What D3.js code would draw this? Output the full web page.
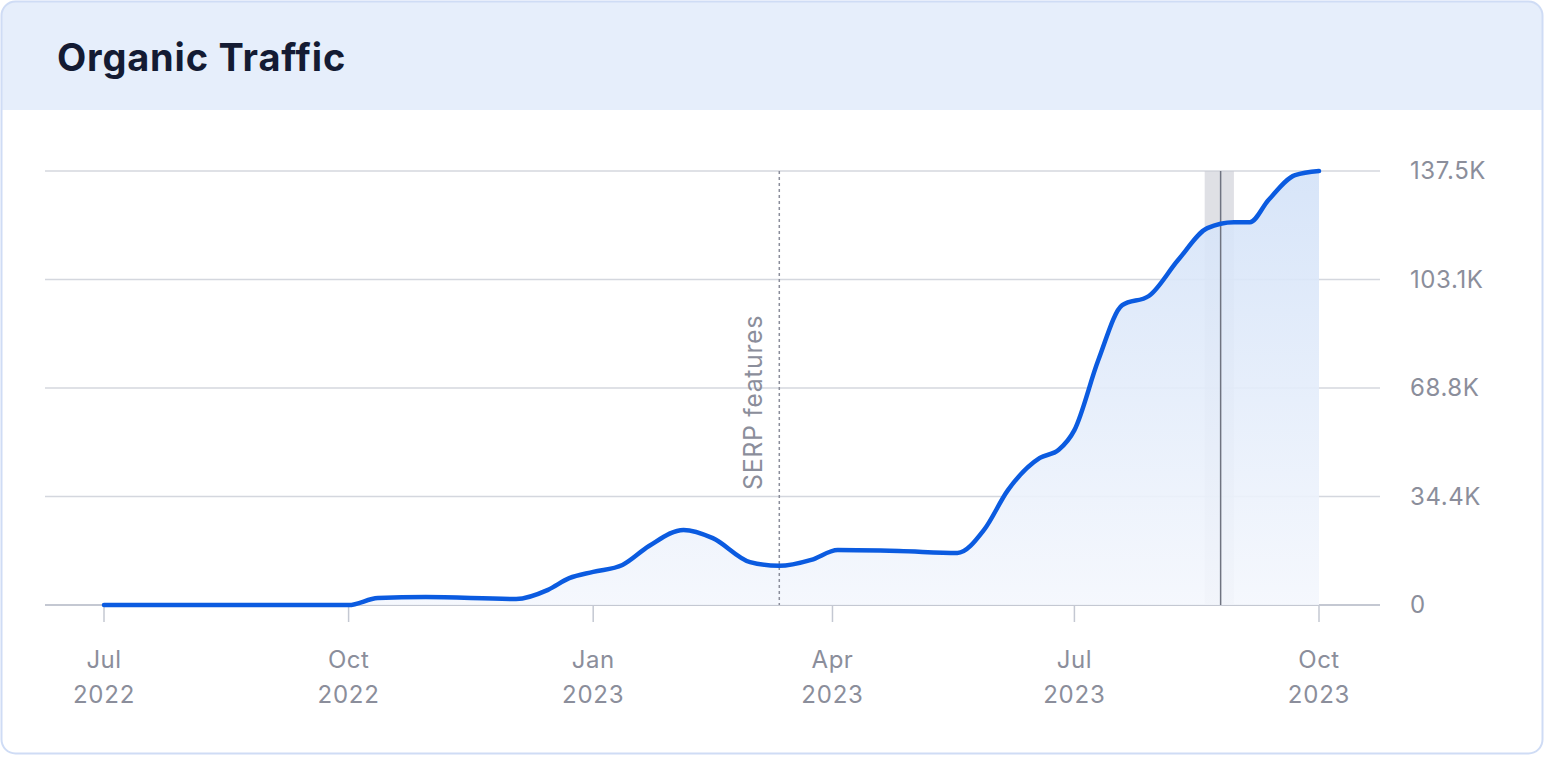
<!DOCTYPE html>
<html><head><meta charset="utf-8">
<script src="https://cdn.jsdelivr.net/npm/d3@7"></script>
<style>
body{margin:0;background:#fff;font-family:Inter,"Noto Sans",sans-serif;}
</style></head><body>
<script>
// data
const dates = ["2022-07-01","2022-10-01","2022-10-12","2022-10-30","2022-12-03","2022-12-15","2022-12-23",
  "2023-01-01","2023-01-12","2023-01-22","2023-02-04","2023-02-15","2023-03-01","2023-03-12","2023-03-24",
  "2023-04-03","2023-04-26","2023-05-18","2023-05-28","2023-06-06","2023-06-18","2023-06-25","2023-07-01",
  "2023-07-10","2023-07-19","2023-07-29","2023-08-09","2023-08-20","2023-08-30","2023-09-05","2023-09-12",
  "2023-09-22","2023-10-01"];
const traffic = [0,0,2200,2500,1900,4800,8500,10500,12700,18700,23800,21200,13600,12400,14300,
  17400,17100,16500,23800,36400,46600,49100,55400,77600,95000,97900,109300,119400,121300,121300,128300,136200,137500];
const yTicks = [0,34375,68750,103125,137500];
const yLabels = ["0","34.4K","68.8K","103.1K","137.5K"];
const xTicks = ["2022-07-01","2022-10-01","2023-01-01","2023-04-01","2023-07-01","2023-10-01"];
const serpDate = "2023-03-12";
const band = ["2023-08-19","2023-08-30"], bandLine = "2023-08-25";

const parse = d3.timeParse("%Y-%m-%d");
const data = dates.map((d,i)=>({d:parse(d), v:traffic[i]}));

const W=1544,H=757;
const svg = d3.select("body").append("svg").attr("width",W).attr("height",H);
const defs = svg.append("defs");
const g1 = defs.append("linearGradient").attr("id","ag").attr("x1",0).attr("y1",0).attr("x2",0).attr("y2",1);
g1.append("stop").attr("offset","0%").attr("stop-color","#d3e2f8");
g1.append("stop").attr("offset","100%").attr("stop-color","#f4f7fd");
const clip = defs.append("clipPath").attr("id","card");
clip.append("rect").attr("x",1.5).attr("y",1.5).attr("width",W-3).attr("height",H-5).attr("rx",14);

svg.append("rect").attr("x",1.5).attr("y",1.5).attr("width",W-3).attr("height",H-5).attr("rx",14)
  .attr("fill","#fff");
svg.append("rect").attr("clip-path","url(#card)").attr("x",0).attr("y",0).attr("width",W).attr("height",110).attr("fill","#e6eefb");
svg.append("rect").attr("x",1.5).attr("y",1.5).attr("width",W-3).attr("height",H-5).attr("rx",14)
  .attr("fill","none").attr("stroke","#cfdcf5").attr("stroke-width",2);
svg.append("text").attr("x",57).attr("y",71).text("Organic Traffic")
  .attr("font-size",38).attr("font-weight",700).attr("fill","#141b33").attr("letter-spacing",0.8);

const x = d3.scaleTime().domain([parse(xTicks[0]),parse(xTicks[5])]).range([104,1319]);
const y = d3.scaleLinear().domain([0,137500]).range([605,171]);

// grid
svg.append("g").selectAll("line").data(yTicks).join("line")
  .attr("x1",45).attr("x2",1380).attr("y1",d=>y(d)).attr("y2",d=>y(d))
  .attr("stroke",d=>d===0?"#c4c8d2":"#d4d7de").attr("stroke-width",d=>d===0?2:1.5);
svg.append("g").selectAll("text").data(yTicks).join("text")
  .attr("x",1410).attr("y",d=>y(d)+8).text((d,i)=>yLabels[i])
  .attr("font-size",24).attr("fill","#8b8e9b").attr("letter-spacing",0.6);

// x axis ticks
const xt = svg.append("g").selectAll("g").data(xTicks.map(parse)).join("g")
  .attr("transform",d=>`translate(${x(d)},0)`);
xt.append("line").attr("y1",606).attr("y2",622).attr("stroke","#c4c8d2").attr("stroke-width",1.5);
xt.append("text").attr("y",668).attr("text-anchor","middle").attr("font-size",24).attr("fill","#8b8e9b")
  .attr("letter-spacing",0.5).text(d=>d3.timeFormat("%b")(d));
xt.append("text").attr("y",703).attr("text-anchor","middle").attr("font-size",24).attr("fill","#8b8e9b")
  .attr("letter-spacing",0.8).text(d=>d3.timeFormat("%Y")(d));

// band
svg.append("rect").attr("x",x(parse(band[0]))).attr("width",x(parse(band[1]))-x(parse(band[0])))
  .attr("y",171).attr("height",434).attr("fill","#c9ccd4").attr("opacity",0.6);

// area + line
const curve = d3.curveMonotoneX;
const area = d3.area().x(d=>x(d.d)).y0(y(0)).y1(d=>y(d.v)).curve(curve);
const line = d3.line().x(d=>x(d.d)).y(d=>y(d.v)).curve(curve);
svg.append("path").datum(data).attr("d",area).attr("fill","url(#ag)").attr("opacity",0.9);

svg.append("line").attr("x1",x(parse(bandLine))).attr("x2",x(parse(bandLine))).attr("y1",171).attr("y2",605)
  .attr("stroke","#6f7380").attr("stroke-width",1.5);

// SERP marker
const sx = x(parse(serpDate));
svg.append("line").attr("x1",sx).attr("x2",sx).attr("y1",171).attr("y2",605)
  .attr("stroke","#8b8e9b").attr("stroke-width",1.5).attr("stroke-dasharray","3,3");
svg.append("text").attr("transform",`translate(${sx-17},490) rotate(-90)`).text("SERP features")
  .attr("font-size",25).attr("fill","#8b8e9b").attr("letter-spacing",0.6);

svg.append("path").datum(data).attr("d",line).attr("fill","none")
  .attr("stroke","#0b5be0").attr("stroke-width",4.5).attr("stroke-linecap","round");
</script>
</body></html>
